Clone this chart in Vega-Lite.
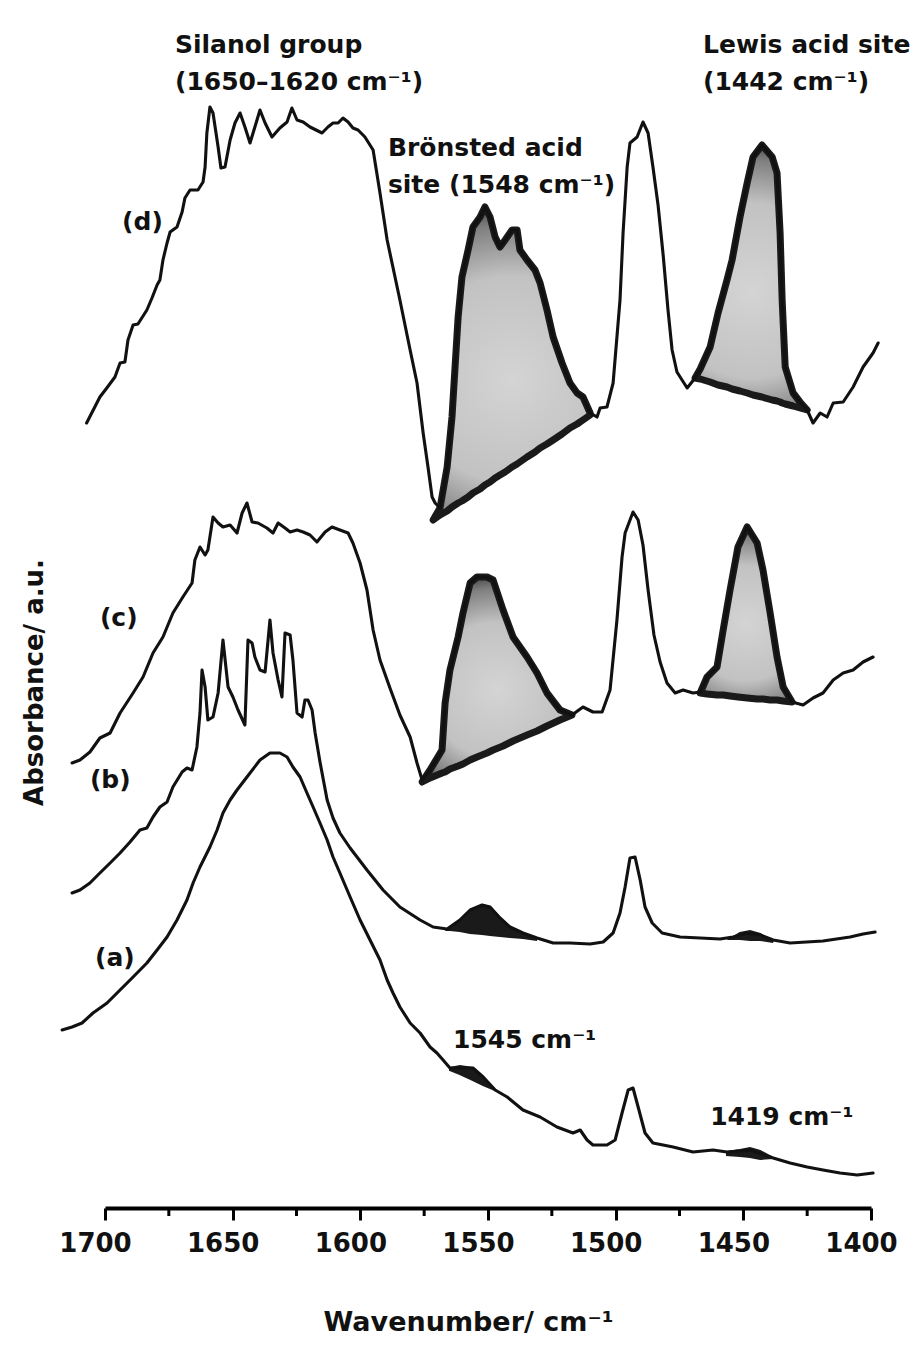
{
  "$schema": "https://vega.github.io/schema/vega-lite/v6.json",
  "width": 766,
  "height": 1208,
  "autosize": {"type": "none"},
  "padding": {"left": 105, "top": 0, "right": 45, "bottom": 154},
  "background": "white",
  "config": {"font": "DejaVu Sans", "view": {"stroke": null}},
  "datasets": {
    "spec": [
      {"s":"d","w":1707.2,"a":7.85},{"s":"d","w":1702.0,"a":8.11},{"s":"d","w":1699.3,"a":8.20},{"s":"d","w":1696.1,"a":8.31},{"s":"d","w":1694.1,"a":8.45},{"s":"d","w":1692.2,"a":8.46},{"s":"d","w":1691.0,"a":8.68},{"s":"d","w":1689.0,"a":8.83},{"s":"d","w":1687.1,"a":8.84},{"s":"d","w":1683.6,"a":8.98},{"s":"d","w":1681.6,"a":9.10},{"s":"d","w":1679.6,"a":9.23},{"s":"d","w":1678.5,"a":9.28},{"s":"d","w":1677.3,"a":9.48},{"s":"d","w":1675.7,"a":9.65},{"s":"d","w":1674.5,"a":9.76},{"s":"d","w":1671.8,"a":9.81},{"s":"d","w":1669.8,"a":9.96},{"s":"d","w":1668.7,"a":10.10},{"s":"d","w":1666.7,"a":10.18},{"s":"d","w":1663.6,"a":10.18},{"s":"d","w":1661.6,"a":10.26},{"s":"d","w":1660.8,"a":10.41},{"s":"d","w":1660.1,"a":10.75},{"s":"d","w":1658.9,"a":11.01},{"s":"d","w":1657.7,"a":10.95},{"s":"d","w":1655.7,"a":10.61},{"s":"d","w":1654.6,"a":10.40},{"s":"d","w":1653.0,"a":10.41},{"s":"d","w":1651.0,"a":10.68},{"s":"d","w":1649.1,"a":10.85},{"s":"d","w":1647.1,"a":10.95},{"s":"d","w":1645.2,"a":10.81},{"s":"d","w":1643.2,"a":10.65},{"s":"d","w":1641.3,"a":10.81},{"s":"d","w":1639.3,"a":10.98},{"s":"d","w":1637.3,"a":10.85},{"s":"d","w":1634.6,"a":10.71},{"s":"d","w":1631.5,"a":10.80},{"s":"d","w":1628.7,"a":10.86},{"s":"d","w":1626.8,"a":11.00},{"s":"d","w":1624.8,"a":10.88},{"s":"d","w":1622.4,"a":10.86},{"s":"d","w":1619.7,"a":10.81},{"s":"d","w":1615.0,"a":10.75},{"s":"d","w":1612.7,"a":10.81},{"s":"d","w":1610.7,"a":10.85},{"s":"d","w":1608.7,"a":10.85},{"s":"d","w":1606.8,"a":10.90},{"s":"d","w":1604.8,"a":10.86},{"s":"d","w":1602.9,"a":10.80},{"s":"d","w":1600.9,"a":10.78},{"s":"d","w":1598.2,"a":10.71},{"s":"d","w":1595.0,"a":10.58},{"s":"d","w":1592.3,"a":10.15},{"s":"d","w":1589.5,"a":9.68},{"s":"d","w":1584.5,"a":9.08},{"s":"d","w":1580.5,"a":8.58},{"s":"d","w":1577.8,"a":8.25},{"s":"d","w":1575.4,"a":7.75},{"s":"d","w":1573.5,"a":7.41},{"s":"d","w":1571.9,"a":7.11},{"s":"d","w":1570.7,"a":7.05},{"s":"d","w":1568.8,"a":7.00},{"s":"d","w":1566.0,"a":7.41},{"s":"d","w":1564.1,"a":7.91},{"s":"d","w":1562.9,"a":8.41},{"s":"d","w":1561.7,"a":8.91},{"s":"d","w":1560.2,"a":9.31},{"s":"d","w":1557.8,"a":9.58},{"s":"d","w":1555.9,"a":9.81},{"s":"d","w":1553.1,"a":9.91},{"s":"d","w":1551.2,"a":10.01},{"s":"d","w":1549.2,"a":9.91},{"s":"d","w":1547.2,"a":9.71},{"s":"d","w":1545.3,"a":9.61},{"s":"d","w":1543.3,"a":9.68},{"s":"d","w":1540.6,"a":9.78},{"s":"d","w":1538.6,"a":9.78},{"s":"d","w":1537.5,"a":9.58},{"s":"d","w":1534.7,"a":9.48},{"s":"d","w":1531.6,"a":9.38},{"s":"d","w":1529.6,"a":9.25},{"s":"d","w":1526.9,"a":8.98},{"s":"d","w":1524.5,"a":8.71},{"s":"d","w":1521.0,"a":8.45},{"s":"d","w":1517.9,"a":8.25},{"s":"d","w":1515.1,"a":8.15},{"s":"d","w":1512.8,"a":8.11},{"s":"d","w":1510.0,"a":7.95},{"s":"d","w":1507.3,"a":7.91},{"s":"d","w":1506.1,"a":8.00},{"s":"d","w":1503.4,"a":8.01},{"s":"d","w":1501.0,"a":8.25},{"s":"d","w":1498.3,"a":9.08},{"s":"d","w":1497.1,"a":9.75},{"s":"d","w":1495.5,"a":10.41},{"s":"d","w":1494.4,"a":10.65},{"s":"d","w":1491.6,"a":10.71},{"s":"d","w":1489.3,"a":10.86},{"s":"d","w":1487.3,"a":10.75},{"s":"d","w":1485.4,"a":10.41},{"s":"d","w":1483.4,"a":10.03},{"s":"d","w":1481.4,"a":9.53},{"s":"d","w":1479.5,"a":8.98},{"s":"d","w":1477.9,"a":8.58},{"s":"d","w":1476.0,"a":8.36},{"s":"d","w":1472.0,"a":8.20},{"s":"d","w":1468.9,"a":8.30},{"s":"d","w":1466.9,"a":8.39},{"s":"d","w":1463.0,"a":8.61},{"s":"d","w":1459.9,"a":8.95},{"s":"d","w":1456.4,"a":9.28},{"s":"d","w":1454.4,"a":9.48},{"s":"d","w":1451.3,"a":9.91},{"s":"d","w":1448.5,"a":10.25},{"s":"d","w":1446.2,"a":10.51},{"s":"d","w":1442.7,"a":10.63},{"s":"d","w":1438.7,"a":10.51},{"s":"d","w":1436.8,"a":10.35},{"s":"d","w":1435.6,"a":9.75},{"s":"d","w":1434.8,"a":9.08},{"s":"d","w":1433.6,"a":8.41},{"s":"d","w":1430.5,"a":8.15},{"s":"d","w":1427.8,"a":8.06},{"s":"d","w":1425.0,"a":7.98},{"s":"d","w":1422.7,"a":7.85},{"s":"d","w":1419.9,"a":7.95},{"s":"d","w":1417.2,"a":7.91},{"s":"d","w":1414.8,"a":8.05},{"s":"d","w":1410.9,"a":8.06},{"s":"d","w":1407.0,"a":8.21},{"s":"d","w":1403.1,"a":8.41},{"s":"d","w":1399.2,"a":8.55},{"s":"d","w":1397.2,"a":8.65},
      {"s":"c","w":1712.9,"a":4.45},{"s":"c","w":1709.8,"a":4.48},{"s":"c","w":1705.9,"a":4.56},{"s":"c","w":1702.0,"a":4.70},{"s":"c","w":1698.0,"a":4.75},{"s":"c","w":1694.1,"a":4.95},{"s":"c","w":1689.0,"a":5.15},{"s":"c","w":1685.1,"a":5.31},{"s":"c","w":1681.2,"a":5.55},{"s":"c","w":1677.3,"a":5.71},{"s":"c","w":1673.4,"a":5.95},{"s":"c","w":1669.5,"a":6.11},{"s":"c","w":1665.9,"a":6.25},{"s":"c","w":1664.8,"a":6.48},{"s":"c","w":1662.8,"a":6.61},{"s":"c","w":1660.8,"a":6.53},{"s":"c","w":1659.7,"a":6.58},{"s":"c","w":1657.7,"a":6.91},{"s":"c","w":1655.7,"a":6.85},{"s":"c","w":1653.8,"a":6.81},{"s":"c","w":1651.0,"a":6.83},{"s":"c","w":1648.3,"a":6.75},{"s":"c","w":1646.3,"a":6.95},{"s":"c","w":1644.4,"a":7.05},{"s":"c","w":1642.4,"a":6.86},{"s":"c","w":1640.1,"a":6.85},{"s":"c","w":1636.6,"a":6.80},{"s":"c","w":1634.2,"a":6.75},{"s":"c","w":1632.2,"a":6.85},{"s":"c","w":1629.5,"a":6.80},{"s":"c","w":1627.5,"a":6.76},{"s":"c","w":1624.8,"a":6.78},{"s":"c","w":1622.4,"a":6.76},{"s":"c","w":1619.7,"a":6.73},{"s":"c","w":1617.0,"a":6.66},{"s":"c","w":1613.8,"a":6.76},{"s":"c","w":1611.1,"a":6.81},{"s":"c","w":1608.0,"a":6.78},{"s":"c","w":1604.8,"a":6.75},{"s":"c","w":1602.9,"a":6.65},{"s":"c","w":1600.1,"a":6.45},{"s":"c","w":1597.4,"a":6.18},{"s":"c","w":1595.0,"a":5.78},{"s":"c","w":1592.3,"a":5.48},{"s":"c","w":1588.4,"a":5.20},{"s":"c","w":1584.5,"a":4.93},{"s":"c","w":1580.5,"a":4.71},{"s":"c","w":1577.8,"a":4.45},{"s":"c","w":1575.8,"a":4.28},{"s":"c","w":1572.7,"a":4.38},{"s":"c","w":1568.0,"a":4.58},{"s":"c","w":1566.8,"a":5.05},{"s":"c","w":1564.9,"a":5.38},{"s":"c","w":1561.7,"a":5.71},{"s":"c","w":1559.8,"a":5.95},{"s":"c","w":1557.0,"a":6.25},{"s":"c","w":1554.3,"a":6.31},{"s":"c","w":1550.4,"a":6.31},{"s":"c","w":1548.0,"a":6.28},{"s":"c","w":1544.1,"a":5.98},{"s":"c","w":1540.2,"a":5.71},{"s":"c","w":1534.7,"a":5.51},{"s":"c","w":1530.8,"a":5.35},{"s":"c","w":1526.9,"a":5.15},{"s":"c","w":1521.8,"a":4.98},{"s":"c","w":1517.1,"a":4.93},{"s":"c","w":1512.8,"a":5.01},{"s":"c","w":1508.9,"a":4.96},{"s":"c","w":1505.3,"a":4.96},{"s":"c","w":1502.2,"a":5.18},{"s":"c","w":1499.5,"a":5.88},{"s":"c","w":1497.5,"a":6.51},{"s":"c","w":1496.3,"a":6.75},{"s":"c","w":1493.2,"a":6.96},{"s":"c","w":1491.2,"a":6.88},{"s":"c","w":1489.3,"a":6.63},{"s":"c","w":1487.3,"a":6.18},{"s":"c","w":1485.0,"a":5.73},{"s":"c","w":1482.6,"a":5.46},{"s":"c","w":1479.9,"a":5.25},{"s":"c","w":1476.7,"a":5.15},{"s":"c","w":1473.6,"a":5.18},{"s":"c","w":1469.7,"a":5.15},{"s":"c","w":1466.9,"a":5.16},{"s":"c","w":1464.2,"a":5.31},{"s":"c","w":1460.3,"a":5.41},{"s":"c","w":1457.9,"a":5.78},{"s":"c","w":1455.2,"a":6.18},{"s":"c","w":1452.1,"a":6.61},{"s":"c","w":1448.5,"a":6.81},{"s":"c","w":1444.6,"a":6.65},{"s":"c","w":1442.3,"a":6.38},{"s":"c","w":1439.5,"a":5.95},{"s":"c","w":1436.8,"a":5.51},{"s":"c","w":1434.4,"a":5.21},{"s":"c","w":1430.9,"a":5.06},{"s":"c","w":1426.6,"a":5.03},{"s":"c","w":1422.7,"a":5.10},{"s":"c","w":1418.8,"a":5.15},{"s":"c","w":1414.8,"a":5.28},{"s":"c","w":1410.9,"a":5.35},{"s":"c","w":1407.0,"a":5.38},{"s":"c","w":1403.1,"a":5.46},{"s":"c","w":1399.2,"a":5.51},
      {"s":"b","w":1712.9,"a":3.15},{"s":"b","w":1709.8,"a":3.18},{"s":"b","w":1705.9,"a":3.25},{"s":"b","w":1702.0,"a":3.35},{"s":"b","w":1698.0,"a":3.45},{"s":"b","w":1694.1,"a":3.55},{"s":"b","w":1690.2,"a":3.66},{"s":"b","w":1686.3,"a":3.78},{"s":"b","w":1683.6,"a":3.80},{"s":"b","w":1681.2,"a":3.91},{"s":"b","w":1678.5,"a":4.01},{"s":"b","w":1675.7,"a":4.06},{"s":"b","w":1673.4,"a":4.21},{"s":"b","w":1669.8,"a":4.36},{"s":"b","w":1667.9,"a":4.40},{"s":"b","w":1665.9,"a":4.38},{"s":"b","w":1664.0,"a":4.61},{"s":"b","w":1662.8,"a":4.95},{"s":"b","w":1662.0,"a":5.38},{"s":"b","w":1660.8,"a":5.21},{"s":"b","w":1659.7,"a":4.88},{"s":"b","w":1657.7,"a":4.91},{"s":"b","w":1655.7,"a":5.15},{"s":"b","w":1653.8,"a":5.68},{"s":"b","w":1651.8,"a":5.21},{"s":"b","w":1649.9,"a":5.11},{"s":"b","w":1647.9,"a":4.98},{"s":"b","w":1645.2,"a":4.83},{"s":"b","w":1644.0,"a":5.68},{"s":"b","w":1642.4,"a":5.65},{"s":"b","w":1641.3,"a":5.51},{"s":"b","w":1639.3,"a":5.38},{"s":"b","w":1637.3,"a":5.36},{"s":"b","w":1635.4,"a":5.88},{"s":"b","w":1634.2,"a":5.55},{"s":"b","w":1632.2,"a":5.28},{"s":"b","w":1630.7,"a":5.11},{"s":"b","w":1629.5,"a":5.75},{"s":"b","w":1627.5,"a":5.73},{"s":"b","w":1626.4,"a":5.48},{"s":"b","w":1624.8,"a":4.95},{"s":"b","w":1622.8,"a":4.91},{"s":"b","w":1621.7,"a":5.08},{"s":"b","w":1620.5,"a":5.08},{"s":"b","w":1618.9,"a":4.98},{"s":"b","w":1617.7,"a":4.75},{"s":"b","w":1615.8,"a":4.46},{"s":"b","w":1613.0,"a":4.08},{"s":"b","w":1610.7,"a":3.90},{"s":"b","w":1608.0,"a":3.75},{"s":"b","w":1604.0,"a":3.60},{"s":"b","w":1597.4,"a":3.38},{"s":"b","w":1591.1,"a":3.18},{"s":"b","w":1584.5,"a":3.01},{"s":"b","w":1576.6,"a":2.88},{"s":"b","w":1571.5,"a":2.81},{"s":"b","w":1566.0,"a":2.79},{"s":"b","w":1564.9,"a":2.81},{"s":"b","w":1561.0,"a":2.88},{"s":"b","w":1557.0,"a":2.98},{"s":"b","w":1552.3,"a":3.03},{"s":"b","w":1549.2,"a":3.01},{"s":"b","w":1545.3,"a":2.90},{"s":"b","w":1541.4,"a":2.81},{"s":"b","w":1536.3,"a":2.75},{"s":"b","w":1530.8,"a":2.70},{"s":"b","w":1524.5,"a":2.65},{"s":"b","w":1517.9,"a":2.65},{"s":"b","w":1510.0,"a":2.64},{"s":"b","w":1504.9,"a":2.66},{"s":"b","w":1501.0,"a":2.75},{"s":"b","w":1498.3,"a":2.95},{"s":"b","w":1496.3,"a":3.21},{"s":"b","w":1494.4,"a":3.50},{"s":"b","w":1492.4,"a":3.51},{"s":"b","w":1490.4,"a":3.28},{"s":"b","w":1488.5,"a":3.01},{"s":"b","w":1485.7,"a":2.85},{"s":"b","w":1481.8,"a":2.75},{"s":"b","w":1474.8,"a":2.71},{"s":"b","w":1466.9,"a":2.70},{"s":"b","w":1459.1,"a":2.69},{"s":"b","w":1454.0,"a":2.71},{"s":"b","w":1448.5,"a":2.75},{"s":"b","w":1443.4,"a":2.73},{"s":"b","w":1438.3,"a":2.68},{"s":"b","w":1431.7,"a":2.65},{"s":"b","w":1418.8,"a":2.67},{"s":"b","w":1408.2,"a":2.71},{"s":"b","w":1403.1,"a":2.74},{"s":"b","w":1398.4,"a":2.76},
      {"s":"a","w":1716.8,"a":1.78},{"s":"a","w":1712.9,"a":1.81},{"s":"a","w":1709.0,"a":1.85},{"s":"a","w":1704.7,"a":1.95},{"s":"a","w":1699.2,"a":2.05},{"s":"a","w":1694.1,"a":2.18},{"s":"a","w":1689.0,"a":2.31},{"s":"a","w":1683.6,"a":2.45},{"s":"a","w":1679.6,"a":2.58},{"s":"a","w":1675.7,"a":2.71},{"s":"a","w":1671.8,"a":2.88},{"s":"a","w":1667.9,"a":3.08},{"s":"a","w":1665.5,"a":3.25},{"s":"a","w":1662.8,"a":3.41},{"s":"a","w":1658.9,"a":3.61},{"s":"a","w":1656.1,"a":3.78},{"s":"a","w":1653.8,"a":3.95},{"s":"a","w":1651.0,"a":4.08},{"s":"a","w":1648.3,"a":4.18},{"s":"a","w":1644.4,"a":4.31},{"s":"a","w":1639.3,"a":4.48},{"s":"a","w":1635.4,"a":4.55},{"s":"a","w":1631.5,"a":4.55},{"s":"a","w":1628.7,"a":4.51},{"s":"a","w":1626.4,"a":4.41},{"s":"a","w":1623.6,"a":4.31},{"s":"a","w":1620.9,"a":4.15},{"s":"a","w":1618.5,"a":4.01},{"s":"a","w":1615.8,"a":3.85},{"s":"a","w":1613.0,"a":3.68},{"s":"a","w":1610.7,"a":3.51},{"s":"a","w":1608.0,"a":3.35},{"s":"a","w":1604.0,"a":3.11},{"s":"a","w":1600.1,"a":2.88},{"s":"a","w":1596.2,"a":2.68},{"s":"a","w":1592.3,"a":2.48},{"s":"a","w":1589.5,"a":2.28},{"s":"a","w":1587.2,"a":2.15},{"s":"a","w":1584.5,"a":2.01},{"s":"a","w":1580.5,"a":1.85},{"s":"a","w":1576.6,"a":1.75},{"s":"a","w":1572.7,"a":1.61},{"s":"a","w":1570.0,"a":1.55},{"s":"a","w":1567.6,"a":1.48},{"s":"a","w":1564.9,"a":1.40},{"s":"a","w":1561.0,"a":1.40},{"s":"a","w":1555.9,"a":1.40},{"s":"a","w":1551.9,"a":1.31},{"s":"a","w":1547.2,"a":1.18},{"s":"a","w":1542.5,"a":1.11},{"s":"a","w":1536.3,"a":0.98},{"s":"a","w":1529.6,"a":0.91},{"s":"a","w":1523.0,"a":0.81},{"s":"a","w":1516.7,"a":0.75},{"s":"a","w":1513.9,"a":0.78},{"s":"a","w":1511.2,"a":0.68},{"s":"a","w":1508.9,"a":0.63},{"s":"a","w":1503.4,"a":0.63},{"s":"a","w":1500.2,"a":0.68},{"s":"a","w":1497.5,"a":0.95},{"s":"a","w":1495.1,"a":1.18},{"s":"a","w":1493.2,"a":1.20},{"s":"a","w":1491.2,"a":1.01},{"s":"a","w":1488.5,"a":0.75},{"s":"a","w":1485.4,"a":0.65},{"s":"a","w":1477.5,"a":0.61},{"s":"a","w":1469.7,"a":0.56},{"s":"a","w":1461.9,"a":0.58},{"s":"a","w":1456.4,"a":0.56},{"s":"a","w":1447.4,"a":0.58},{"s":"a","w":1438.3,"a":0.50},{"s":"a","w":1431.7,"a":0.45},{"s":"a","w":1425.0,"a":0.41},{"s":"a","w":1418.8,"a":0.38},{"s":"a","w":1412.1,"a":0.35},{"s":"a","w":1405.4,"a":0.33},{"s":"a","w":1399.2,"a":0.35}
    ],
    "big": [
      {"p":"dB","w":1571.5,"a":6.88,"b":6.88},{"p":"dB","w":1568.8,"a":7.00,"b":6.93},{"p":"dB","w":1566.0,"a":7.41,"b":6.97},{"p":"dB","w":1564.1,"a":7.91,"b":7.01},{"p":"dB","w":1562.9,"a":8.41,"b":7.03},{"p":"dB","w":1561.7,"a":8.91,"b":7.05},{"p":"dB","w":1560.2,"a":9.31,"b":7.07},{"p":"dB","w":1557.8,"a":9.58,"b":7.11},{"p":"dB","w":1555.9,"a":9.81,"b":7.15},{"p":"dB","w":1553.1,"a":9.91,"b":7.19},{"p":"dB","w":1551.2,"a":10.01,"b":7.23},{"p":"dB","w":1549.2,"a":9.91,"b":7.26},{"p":"dB","w":1547.2,"a":9.71,"b":7.30},{"p":"dB","w":1545.3,"a":9.61,"b":7.33},{"p":"dB","w":1543.3,"a":9.68,"b":7.36},{"p":"dB","w":1540.6,"a":9.78,"b":7.41},{"p":"dB","w":1538.6,"a":9.78,"b":7.44},{"p":"dB","w":1537.5,"a":9.58,"b":7.46},{"p":"dB","w":1534.7,"a":9.48,"b":7.51},{"p":"dB","w":1531.6,"a":9.38,"b":7.56},{"p":"dB","w":1529.6,"a":9.25,"b":7.60},{"p":"dB","w":1526.9,"a":8.98,"b":7.64},{"p":"dB","w":1524.5,"a":8.71,"b":7.68},{"p":"dB","w":1521.0,"a":8.45,"b":7.74},{"p":"dB","w":1517.9,"a":8.25,"b":7.80},{"p":"dB","w":1515.1,"a":8.15,"b":7.84},{"p":"dB","w":1512.8,"a":8.11,"b":7.88},{"p":"dB","w":1510.0,"a":7.95,"b":7.93},
      {"p":"dL","w":1468.9,"a":8.30,"b":8.30},{"p":"dL","w":1466.9,"a":8.39,"b":8.29},{"p":"dL","w":1463.0,"a":8.61,"b":8.26},{"p":"dL","w":1459.9,"a":8.95,"b":8.23},{"p":"dL","w":1456.4,"a":9.28,"b":8.21},{"p":"dL","w":1454.4,"a":9.48,"b":8.19},{"p":"dL","w":1451.3,"a":9.91,"b":8.17},{"p":"dL","w":1448.5,"a":10.25,"b":8.15},{"p":"dL","w":1446.2,"a":10.51,"b":8.13},{"p":"dL","w":1442.7,"a":10.63,"b":8.11},{"p":"dL","w":1438.7,"a":10.51,"b":8.08},{"p":"dL","w":1436.8,"a":10.35,"b":8.07},{"p":"dL","w":1435.6,"a":9.75,"b":8.06},{"p":"dL","w":1434.8,"a":9.08,"b":8.05},{"p":"dL","w":1433.6,"a":8.41,"b":8.04},{"p":"dL","w":1430.5,"a":8.15,"b":8.02},{"p":"dL","w":1427.8,"a":8.06,"b":8.00},{"p":"dL","w":1425.0,"a":7.98,"b":7.98},
      {"p":"cB","w":1575.8,"a":4.26,"b":4.26},{"p":"cB","w":1572.7,"a":4.38,"b":4.30},{"p":"cB","w":1568.0,"a":4.58,"b":4.35},{"p":"cB","w":1566.8,"a":5.05,"b":4.36},{"p":"cB","w":1564.9,"a":5.38,"b":4.39},{"p":"cB","w":1561.7,"a":5.71,"b":4.42},{"p":"cB","w":1559.8,"a":5.95,"b":4.44},{"p":"cB","w":1557.0,"a":6.25,"b":4.48},{"p":"cB","w":1554.3,"a":6.31,"b":4.51},{"p":"cB","w":1550.4,"a":6.31,"b":4.55},{"p":"cB","w":1548.0,"a":6.28,"b":4.58},{"p":"cB","w":1544.1,"a":5.98,"b":4.62},{"p":"cB","w":1540.2,"a":5.71,"b":4.67},{"p":"cB","w":1534.7,"a":5.51,"b":4.73},{"p":"cB","w":1530.8,"a":5.35,"b":4.77},{"p":"cB","w":1526.9,"a":5.15,"b":4.82},{"p":"cB","w":1521.8,"a":4.98,"b":4.88},{"p":"cB","w":1517.1,"a":4.93,"b":4.93},
      {"p":"cL","w":1466.9,"a":5.15,"b":5.15},{"p":"cL","w":1464.2,"a":5.31,"b":5.14},{"p":"cL","w":1460.3,"a":5.41,"b":5.13},{"p":"cL","w":1457.9,"a":5.78,"b":5.13},{"p":"cL","w":1455.2,"a":6.18,"b":5.12},{"p":"cL","w":1452.1,"a":6.61,"b":5.11},{"p":"cL","w":1448.5,"a":6.81,"b":5.10},{"p":"cL","w":1444.6,"a":6.65,"b":5.09},{"p":"cL","w":1442.3,"a":6.38,"b":5.09},{"p":"cL","w":1439.5,"a":5.95,"b":5.08},{"p":"cL","w":1436.8,"a":5.51,"b":5.08},{"p":"cL","w":1434.4,"a":5.21,"b":5.07},{"p":"cL","w":1430.9,"a":5.06,"b":5.06}
    ],
    "small": [
      {"p":"bB","w":1566.0,"a":2.78,"b":2.78},{"p":"bB","w":1564.9,"a":2.81,"b":2.78},{"p":"bB","w":1561.0,"a":2.88,"b":2.77},{"p":"bB","w":1557.0,"a":2.98,"b":2.75},{"p":"bB","w":1552.3,"a":3.03,"b":2.74},{"p":"bB","w":1549.2,"a":3.01,"b":2.73},{"p":"bB","w":1545.3,"a":2.90,"b":2.72},{"p":"bB","w":1541.4,"a":2.81,"b":2.71},{"p":"bB","w":1536.3,"a":2.75,"b":2.70},{"p":"bB","w":1530.8,"a":2.68,"b":2.68},
      {"p":"bL","w":1455.2,"a":2.69,"b":2.69},{"p":"bL","w":1451.3,"a":2.75,"b":2.69},{"p":"bL","w":1447.4,"a":2.77,"b":2.68},{"p":"bL","w":1443.4,"a":2.74,"b":2.68},{"p":"bL","w":1438.3,"a":2.66,"b":2.66},
      {"p":"aB","w":1564.9,"a":1.40,"b":1.38},{"p":"aB","w":1561.0,"a":1.42,"b":1.34},{"p":"aB","w":1555.9,"a":1.40,"b":1.28},{"p":"aB","w":1551.9,"a":1.31,"b":1.23},{"p":"aB","w":1547.2,"a":1.18,"b":1.18},
      {"p":"aL","w":1456.4,"a":0.56,"b":0.53},{"p":"aL","w":1451.3,"a":0.58,"b":0.52},{"p":"aL","w":1447.4,"a":0.60,"b":0.51},{"p":"aL","w":1443.4,"a":0.57,"b":0.49},{"p":"aL","w":1438.3,"a":0.50,"b":0.50}
    ],
    "minor": [
      {"w":1675,"a":0,"b":-0.08},{"w":1625,"a":0,"b":-0.08},{"w":1575,"a":0,"b":-0.08},{"w":1525,"a":0,"b":-0.08},{"w":1475,"a":0,"b":-0.08},{"w":1425,"a":0,"b":-0.08}
    ],
    "notes": [
      {"w":1672.6,"a":11.63,"t":"Silanol group"},
      {"w":1672.6,"a":11.26,"t":"(1650–1620 cm⁻¹)"},
      {"w":1589.2,"a":10.60,"t":"Brönsted acid"},
      {"w":1589.2,"a":10.23,"t":"site (1548 cm⁻¹)"},
      {"w":1465.8,"a":11.63,"t":"Lewis acid site"},
      {"w":1465.8,"a":11.26,"t":"(1442 cm⁻¹)"},
      {"w":1693.3,"a":9.86,"t":"(d)"},
      {"w":1702.0,"a":5.90,"t":"(c)"},
      {"w":1705.9,"a":4.28,"t":"(b)"},
      {"w":1703.9,"a":2.50,"t":"(a)"},
      {"w":1563.7,"a":1.68,"t":"1545 cm⁻¹"},
      {"w":1463.0,"a":0.91,"t":"1419 cm⁻¹"}
    ]
  },
  "encoding": {
    "x": {
      "field": "w", "type": "quantitative",
      "scale": {"domain": [1400, 1700], "reverse": true, "nice": false, "zero": false},
      "axis": {
        "title": "Wavenumber/ cm⁻¹",
        "values": [1700, 1650, 1600, 1550, 1500, 1450, 1400],
        "format": "d", "grid": false,
        "domainColor": "#000", "domainWidth": 4,
        "tickColor": "#000", "tickWidth": 3, "tickSize": 12,
        "labelFontSize": 26, "labelFontWeight": "bold", "labelColor": "#111", "labelPadding": 10, "labelOffset": -10,
        "labelFlush": false, "labelOverlap": false,
        "titleFontSize": 27, "titleFontWeight": "bold", "titleColor": "#111", "titlePadding": 53, "titleX": 363
      }
    },
    "y": {
      "field": "a", "type": "quantitative",
      "scale": {"domain": [0, 12.08], "nice": false, "zero": false},
      "axis": {
        "title": "Absorbance/ a.u.", "domain": false, "ticks": false, "labels": false, "grid": false,
        "titleFontSize": 26, "titleFontWeight": "bold", "titleColor": "#111", "titlePadding": 58, "titleY": 682
      }
    }
  },
  "layer": [
    {
      "data": {"name": "minor"},
      "mark": {"type": "rule", "color": "#000", "strokeWidth": 3},
      "encoding": {"y2": {"field": "b"}}
    },
    {
      "data": {"name": "big"},
      "mark": {
        "type": "area", "stroke": "#1a1a1a", "strokeWidth": 7, "strokeJoin": "round",
        "fill": {"gradient": "radial", "x1": 0.5, "y1": 0.55, "r1": 0, "x2": 0.5, "y2": 0.55, "r2": 0.6,
          "stops": [{"offset": 0, "color": "#d4d4d4"}, {"offset": 0.55, "color": "#c2c2c2"}, {"offset": 0.82, "color": "#808080"}, {"offset": 1, "color": "#262626"}]}
      },
      "encoding": {"y2": {"field": "b"}, "detail": {"field": "p"}}
    },
    {
      "data": {"name": "small"},
      "mark": {"type": "area", "fill": "#1a1a1a", "stroke": "#1a1a1a", "strokeWidth": 2},
      "encoding": {"y2": {"field": "b"}, "detail": {"field": "p"}}
    },
    {
      "data": {"name": "spec"},
      "mark": {"type": "line", "color": "#111", "strokeWidth": 3.1, "strokeJoin": "round", "strokeCap": "round"},
      "encoding": {"detail": {"field": "s"}}
    },
    {
      "data": {"name": "notes"},
      "mark": {"type": "text", "align": "left", "baseline": "middle", "fontSize": 25, "fontWeight": "bold", "color": "#111"},
      "encoding": {"text": {"field": "t"}}
    }
  ]
}
